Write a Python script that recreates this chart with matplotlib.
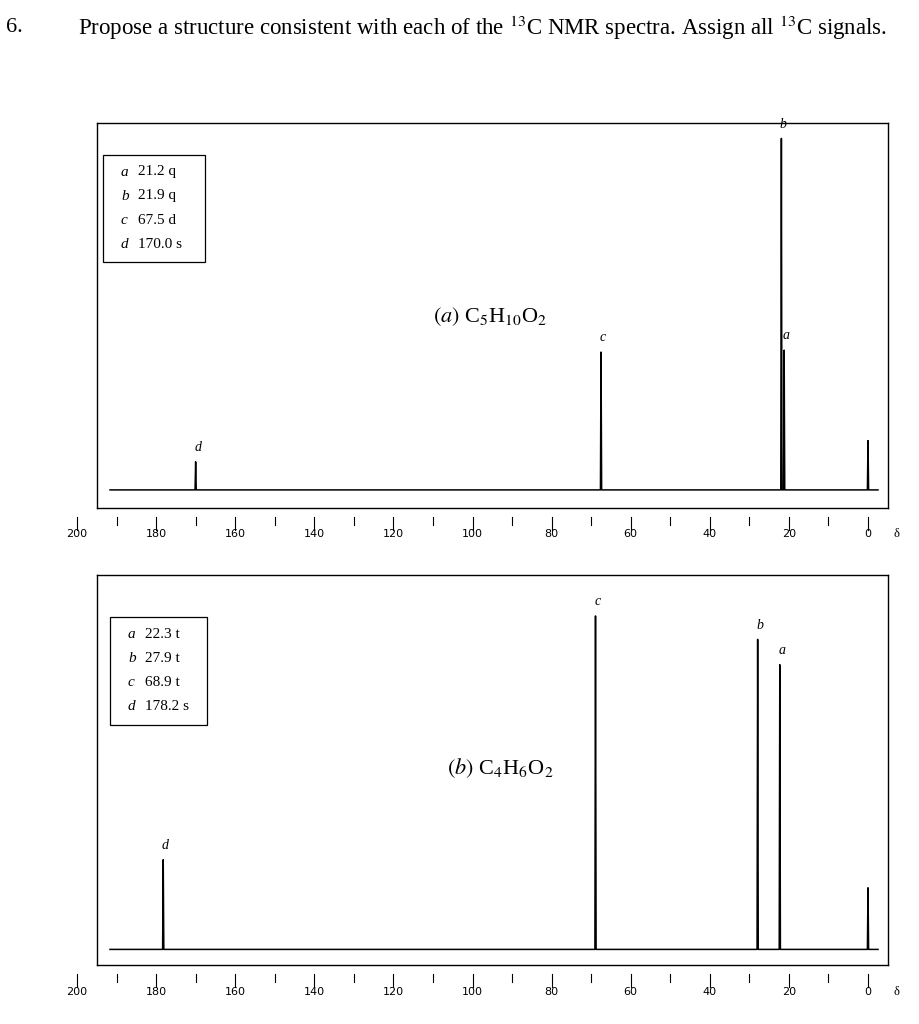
import matplotlib.pyplot as plt
import matplotlib.transforms as mtrans

# peak positions (ppm) and heights (fraction of panel height)
a_labels = ["d", "c", "b", "a", ""]
a_ppm = [170.0, 67.5, 21.9, 21.2, 0.0]
a_height = [0.12, 0.405, 0.96, 0.41, 0.175]
a_table = ["21.2 q", "21.9 q", "67.5 d", "170.0 s"]
a_formula = r"$(a)$ C$_5$H$_{10}$O$_2$"

b_labels = ["d", "c", "b", "a", ""]
b_ppm = [178.2, 68.9, 27.9, 22.3, 0.0]
b_height = [0.27, 0.895, 0.835, 0.77, 0.198]
b_table = ["22.3 t", "27.9 t", "68.9 t", "178.2 s"]
b_formula = r"$(b)$ C$_4$H$_6$O$_2$"

W, H = 920, 1024
plt.rcParams['font.family'] = ['Liberation Serif', 'DejaVu Serif']
plt.rcParams['mathtext.fontset'] = 'stix'
fig = plt.figure(figsize=(9.2, 10.24), dpi=100)

fig.text(6 / W, 1 - 28 / H, "6.", fontsize=16, va="center")
fig.text(78 / W, 1 - 28 / H,
         "Propose a structure consistent with each of the $^{13}$C NMR spectra. Assign all $^{13}$C signals.",
         fontsize=16.5, va="center")


def ppm_at(px):
    return (868 - px) / 3.955


def panel(top, bottom, labels, ppm, height, table, formula, base, tbox, fpos):
    ax = fig.add_axes([97 / W, 1 - bottom / H, (888 - 97) / W, (bottom - top) / H])
    ax.set_xlim(ppm_at(97), ppm_at(888))
    ax.set_ylim(0, 1)
    ax.set_xticks([])
    ax.set_yticks([])
    for s in ax.spines.values():
        s.set_linewidth(1.0)
    # spectrum trace
    xs = [ppm_at(110)]
    ys = [base]
    for p, h in sorted(zip(ppm, height), reverse=True):
        xs += [p + 0.15, p, p - 0.15]
        ys += [base, h, base]
    xs.append(ppm_at(878))
    ys.append(base)
    ax.plot(xs, ys, color="black", lw=1.1)
    for lab, p, h in zip(labels, ppm, height):
        if lab:
            ax.text(p - 0.5, h + 0.02, lab, style="italic", fontsize=10, ha="center", va="bottom")
    # scale below box
    tr = mtrans.blended_transform_factory(ax.transData, ax.transAxes)
    frac = 9 / (bottom - top)
    for v in range(0, 201, 10):
        ln = 0.035 if v % 20 == 0 else 0.02
        ax.plot([v, v], [-frac, -frac - ln * (385 / (bottom - top))], color="black",
                lw=0.8, transform=tr, clip_on=False)
        if v % 20 == 0:
            ax.text(v, -frac - 0.045, str(v), fontsize=8, ha="center", va="center",
                    family="DejaVu Sans", transform=tr)
    ax.text(ppm_at(897), -frac - 0.045, "δ", fontsize=9, ha="center", va="center", transform=tr)
    # table box
    x0, y0, x1, y1 = tbox
    fig.patches.append(plt.Rectangle((x0 / W, 1 - y1 / H), (x1 - x0) / W, (y1 - y0) / H,
                                     transform=fig.transFigure, fill=False, lw=0.9))
    for i, (k, t) in enumerate(zip("abcd", table)):
        yy = 1 - (y0 + 17 + i * 24) / H
        fig.text((x0 + 18) / W, yy, k, style="italic", fontsize=11, va="center")
        fig.text((x0 + 35) / W, yy, t, fontsize=11, va="center")
    fig.text(fpos[0] / W, 1 - fpos[1] / H, formula, fontsize=16, ha="center", va="center")


panel(123, 508, a_labels, a_ppm, a_height, a_table, a_formula, 0.047,
      (103, 155, 205, 262), (490, 317))
panel(575, 965, b_labels, b_ppm, b_height, b_table, b_formula, 0.04,
      (110, 617, 207, 725), (500, 768))

fig.savefig("out.png", dpi=100)
